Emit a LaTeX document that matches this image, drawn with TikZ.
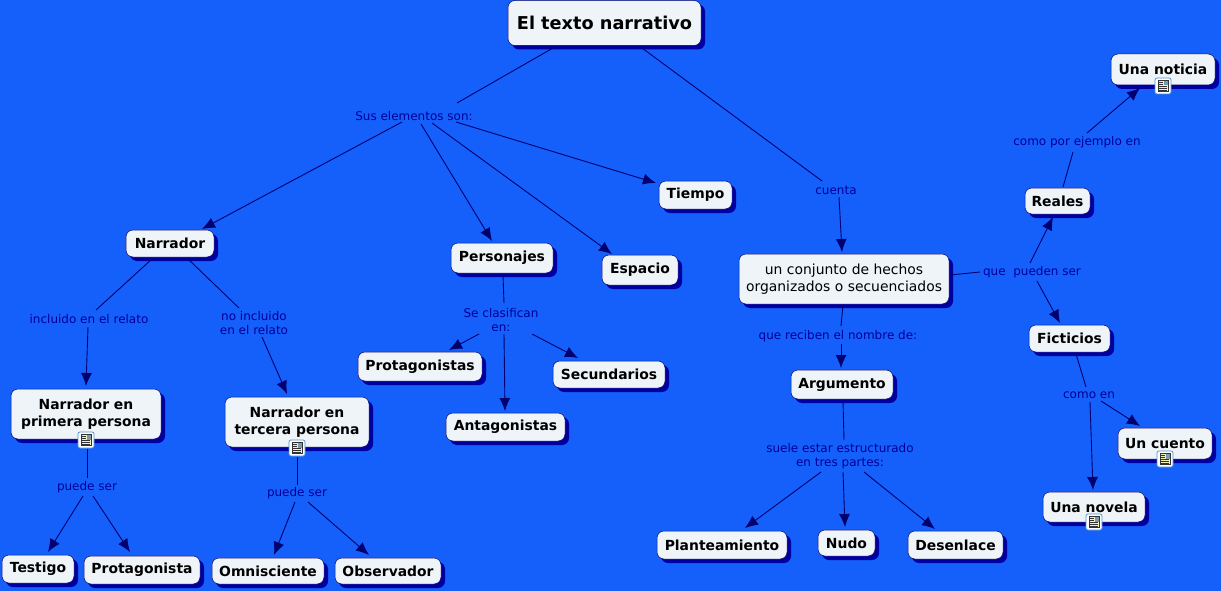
\documentclass[tikz,border=0pt]{standalone}
\usepackage{fontspec}
\setmainfont{DejaVu Sans}
\usetikzlibrary{arrows.meta,shadows}
\definecolor{bgblue}{HTML}{1560FA}
\definecolor{boxfill}{HTML}{EEF4F8}
\definecolor{shadowblue}{HTML}{0000A0}
\definecolor{linecol}{HTML}{00006E}
\definecolor{labelcol}{HTML}{000099}
\definecolor{iconrim}{HTML}{4F8FD0}
\definecolor{iconpage}{HTML}{F5F0B8}
\definecolor{iconpic}{HTML}{7C9AA8}
\tikzset{
  concept/.style={draw=linecol,line width=0.5pt,fill=boxfill,rounded corners=7pt,align=center,inner sep=0pt,
    font=\fontsize{13.9}{17}\selectfont\bfseries,text=black,
    general shadow={fill=shadowblue,shadow xshift=4pt,shadow yshift=-4pt}},
  plainconcept/.style={concept,font=\fontsize{13.9}{17.5}\selectfont},
  titleconcept/.style={concept,font=\fontsize{17.7}{22}\selectfont\bfseries},
  linklabel/.style={align=center,inner sep=0pt,yshift=-1pt,font=\fontsize{12}{14.5}\selectfont,text=labelcol},
  conn/.style={draw=linecol,line width=0.9pt},
  arrowconn/.style={conn,-{Latex[length=13pt,width=11pt]}},
  docicon/.pic={
    \fill[white,draw=iconrim,line width=0.7pt,rounded corners=2pt] (-8,-8) rectangle (8,8);
    \fill[iconpage,draw=black!80,line width=0.4pt] (-5,-5.5) rectangle (5,5.5);
    \fill[iconpic] (0.5,-5) rectangle (4.6,-0.5);
    \foreach \yy in {-3.5,-1.5}{\draw[black!80,line width=0.5pt] (-4,\yy) -- (-0.5,\yy);}
    \foreach \yy in {0.5,2.2,3.9}{\draw[black!80,line width=0.5pt] (-4,\yy) -- (4,\yy);}
  }
}
\newcommand{\cnode}[7][concept]{\node[#1,minimum width=#5pt,minimum height=#6pt] (#2) at (#3,#4) {#7};}
\newcommand{\lnode}[4]{\node[linklabel] (#1) at (#2,#3) {#4};}
\newcommand{\plainlink}[4]{\draw[conn] ([shift={(#2)}]#1.center) -- ([shift={(#4)}]#3.center);}
\newcommand{\arrowlink}[4]{\draw[arrowconn] ([shift={(#2)}]#1.center) -- ([shift={(#4)}]#3.center);}
\begin{document}
\begin{tikzpicture}[x=1pt,y=-1pt]
\fill[bgblue] (0,0) rectangle (1221,591);
\useasboundingbox (0,0) rectangle (1221,591);
% concepts
\cnode[titleconcept]{title}{604.5}{23}{193}{45}{El texto narrativo}
\cnode{narrador}{170}{243.5}{88}{27}{Narrador}
\cnode{personajes}{502}{258}{102}{30}{Personajes}
\cnode{espacio}{640}{270}{76}{30}{Espacio}
\cnode{tiempo}{695.5}{195}{73}{28}{Tiempo}
\cnode[plainconcept]{conj}{844}{279}{210}{50}{un conjunto de hechos\\organizados o secuenciados}
\cnode{noticia}{1163}{69.5}{104}{31}{Una noticia}
\cnode{reales}{1057.5}{201}{65}{26}{Reales}
\cnode{ficticios}{1069.5}{338.5}{81}{27}{Ficticios}
\cnode{argumento}{842}{384.5}{102}{29}{Argumento}
\cnode{cuento}{1165}{443.5}{94}{31}{Un cuento}
\cnode{novela}{1094}{507}{102}{30}{Una novela}
\cnode{plant}{722}{545}{130}{28}{Planteamiento}
\cnode{nudo}{846.5}{543}{57}{26}{Nudo}
\cnode{desenlace}{955.5}{545}{95}{28}{Desenlace}
\cnode{protag}{420}{366.5}{124}{29}{Protagonistas}
\cnode{secund}{609}{374.5}{112}{27}{Secundarios}
\cnode{antag}{505.5}{427}{119}{28}{Antagonistas}
\cnode{primera}{86}{414}{150}{50}{Narrador en\\primera persona}
\cnode{tercera}{297}{422}{144}{50}{Narrador en\\tercera persona}
\cnode{testigo}{38}{569}{72}{28}{Testigo}
\cnode{protagonista}{142}{570}{116}{28}{Protagonista}
\cnode{omni}{268}{571}{112}{26}{Omnisciente}
\cnode{obs}{388}{571}{106}{26}{Observador}
% labels
\lnode{sus}{414}{115}{Sus elementos son:}
\lnode{cuenta}{836}{189}{cuenta}
\lnode{pueden}{1032}{271}{que\ \ pueden ser}
\lnode{comopor}{1077}{141}{como por ejemplo en}
\lnode{comoen}{1089}{394}{como en}
\lnode{reciben}{838}{335}{que reciben el nombre de:}
\lnode{suele}{840}{455}{suele estar estructurado\\en tres partes:}
\lnode{clas}{501}{319}{Se clasifican\\en:}
\lnode{incl}{89}{318}{incluido en el relato}
\lnode{noincl}{254}{322}{no incluido\\en el relato}
\lnode{puedeA}{87}{486}{puede ser}
\lnode{puedeB}{297}{492}{puede ser}
% links (offsets are measured from the centre of each label, which sits 1 lower)
\plainlink{title}{-51.5,25}{sus}{43,-13}
\arrowlink{sus}{-12,6}{narrador}{32,-14.5}
\arrowlink{sus}{7,8}{personajes}{-10,-17}
\arrowlink{sus}{18,7}{espacio}{-28,-16}
\arrowlink{sus}{42,6}{tiempo}{-39.5,-12}
\plainlink{title}{37.5,25}{cuenta}{-14,-9}
\arrowlink{cuenta}{3,7}{conj}{-2,-27}
\plainlink{conj}{106,-4}{pueden}{-52,0}
\arrowlink{pueden}{-2,-9}{reales}{-4.5,16}
\arrowlink{pueden}{5,9}{ficticios}{-9.5,-15.5}
\plainlink{reales}{5.5,-14}{comopor}{-4,10}
\arrowlink{comopor}{10,-9}{noticia}{-23,18.5}
\plainlink{ficticios}{6.5,15.5}{comoen}{-3,-8}
\arrowlink{comoen}{12,6}{cuento}{-25,-17.5}
\arrowlink{comoen}{1,7}{novela}{-1,-17}
\plainlink{conj}{-1,26}{reciben}{3,-10}
\arrowlink{reciben}{3,8}{argumento}{-1,-16.5}
\plainlink{argumento}{1,16.5}{suele}{4,-16}
\arrowlink{suele}{-19,16}{plant}{23,-17}
\arrowlink{suele}{3,16}{nudo}{-1.5,-16}
\arrowlink{suele}{24,16}{desenlace}{-20.5,-16}
\plainlink{personajes}{1,17}{clas}{3,-17}
\arrowlink{clas}{-22,14}{protag}{29,-16.5}
\arrowlink{clas}{3,14}{antag}{-.5,-16}
\arrowlink{clas}{31,14}{secund}{-31,-16.5}
\plainlink{narrador}{-18,15.5}{incl}{7,-9}
\arrowlink{incl}{-1,8}{primera}{0,-28}
\plainlink{narrador}{18,15.5}{noincl}{-15,-15}
\arrowlink{noincl}{8,14}{tercera}{-10,-28}
\plainlink{primera}{1,35}{puedeA}{0,-9}
\arrowlink{puedeA}{-4,9}{testigo}{10,-17}
\arrowlink{puedeA}{6,9}{protagonista}{-12,-18}
\plainlink{tercera}{0,35}{puedeB}{0,-8}
\arrowlink{puedeB}{-2,9}{omni}{6,-16}
\arrowlink{puedeB}{11,9}{obs}{-19,-16}
% resource icons
\pic at (86,440) {docicon};
\pic at (297,448) {docicon};
\pic at (1163,86) {docicon};
\pic at (1165,459) {docicon};
\pic at (1094,522) {docicon};
\end{tikzpicture}
\end{document}
